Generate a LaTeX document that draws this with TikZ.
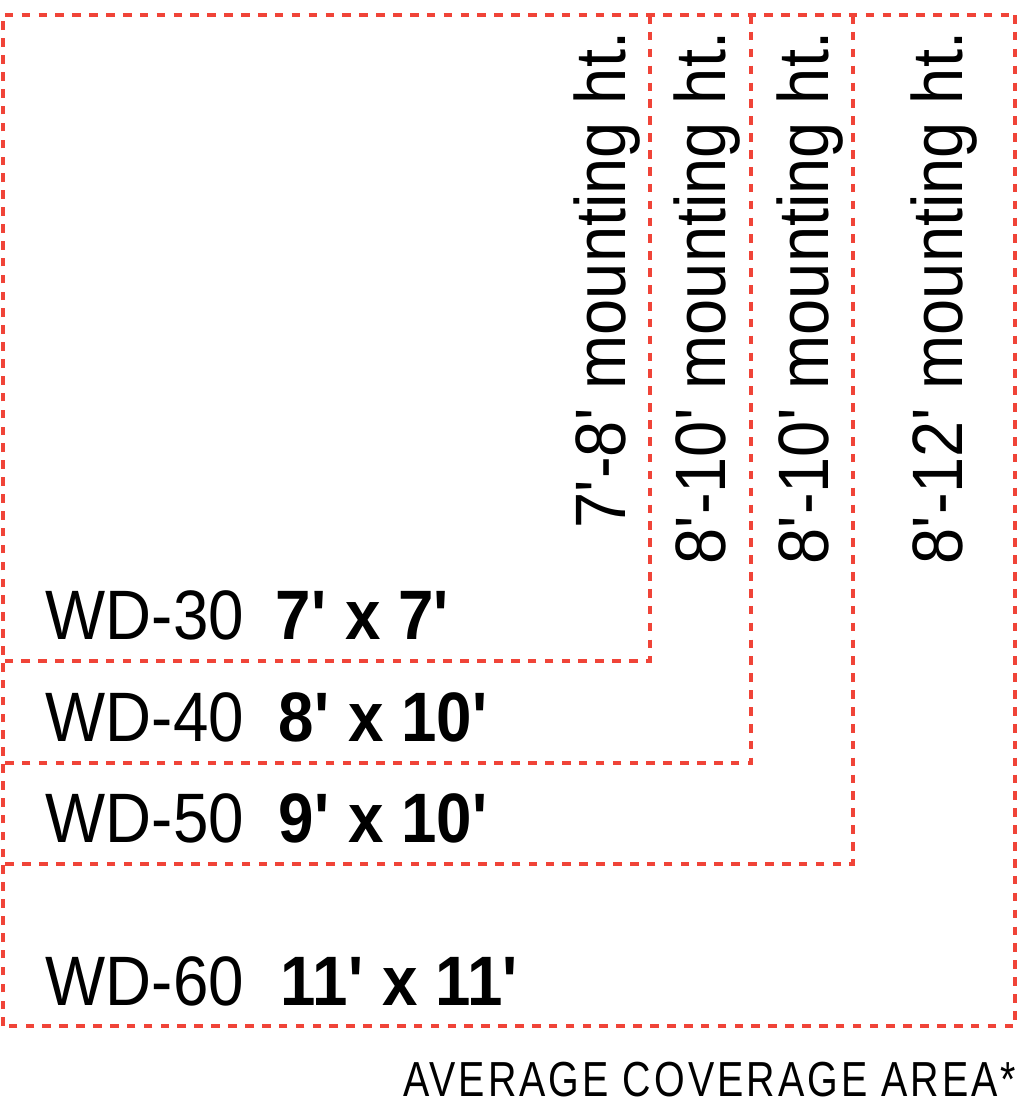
\documentclass[tikz,border=0pt]{standalone}
\usepackage{fontspec}
\setmainfont[FakeStretch=0.91]{Liberation Sans}
\newfontfamily\notefont[FakeStretch=0.8,LetterSpace=6.2]{Liberation Sans}
\usepackage{xcolor}
\definecolor{coverred}{RGB}{240,68,56}
\newcommand{\ft}{\textquotesingle}

\begin{document}
\begin{tikzpicture}[
    x=0.01cm, y=-0.01cm,
    coverage/.style={draw=coverred, line width=1.4pt, dash pattern=on 2.45pt off 2.35pt},
    model/.style={anchor=base west, inner sep=0pt, font=\fontsize{19.9}{24}\selectfont},
    sizetxt/.style={model, font=\fontsize{19.9}{24}\selectfont\bfseries},
    mountht/.style={anchor=base east, rotate=90, inner sep=0pt, font=\fontsize{20.3}{24}\selectfont},
    notetxt/.style={anchor=base east, inner sep=0pt, font=\notefont\fontsize{14}{16}\selectfont}
]
\useasboundingbox (0,0) rectangle (1021,1100);

% shared top and left edges
\draw[coverage] (3,1026) -- (3,15) -- (1015,15);

% right and bottom edge of each coverage area
\draw[coverage] (650,15) -- (650,661) -- (3,661);
\draw[coverage] (751,15) -- (751,763) -- (3,763);
\draw[coverage] (853,15) -- (853,864) -- (3,864);
\draw[coverage] (1015,15) -- (1015,1026) -- (3,1026);

% models and areas
\node[model]   (wd30)  at (45,639)   {WD-30};
\node[sizetxt] (size30) at (275,639) {7\ft{} x 7\ft};
\node[model]   (wd40)  at (45,741)   {WD-40};
\node[sizetxt] (size40) at (278,741) {8\ft{} x 10\ft};
\node[model]   (wd50)  at (45,842)   {WD-50};
\node[sizetxt] (size50) at (278,842) {9\ft{} x 10\ft};
\node[model]   (wd60)  at (45,1005)  {WD-60};
\node[sizetxt] (size60) at (280,1005) {11\ft{} x 11\ft};

% mounting heights
\node[mountht] (ht30) at (625,31) {7\ft-8\ft{} mounting ht.};
\node[mountht] (ht40) at (725,31) {8\ft-10\ft{} mounting ht.};
\node[mountht] (ht50) at (828,31) {8\ft-10\ft{} mounting ht.};
\node[mountht] (ht60) at (962,31) {8\ft-12\ft{} mounting ht.};

\node[notetxt] (note) at (1017,1096) {AVERAGE COVERAGE AREA*};

\end{tikzpicture}
\end{document}
